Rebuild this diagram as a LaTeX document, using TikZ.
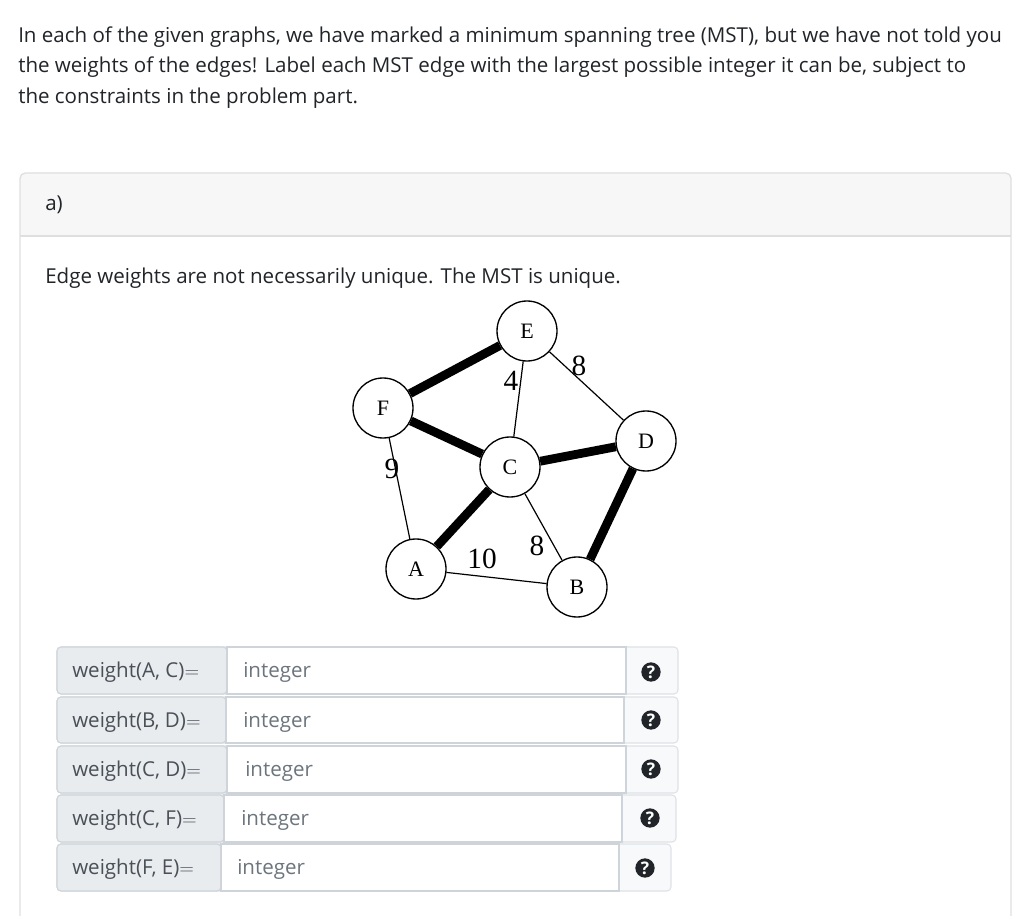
\documentclass[tikz,border=0pt]{standalone}
\usepackage{fontspec}
\setmainfont{Open Sans}
\newfontfamily\graphfont{Liberation Serif}

\definecolor{bodytext}{HTML}{212529}
\definecolor{cardline}{HTML}{DFDFDF}
\definecolor{cardhead}{HTML}{F7F7F7}
\definecolor{lblfill}{HTML}{E9ECEF}
\definecolor{lblline}{HTML}{CED4DA}
\definecolor{lbltext}{HTML}{495057}
\definecolor{addonfill}{HTML}{F8F9FA}
\definecolor{addonline}{HTML}{DEE2E6}
\definecolor{hinttext}{HTML}{6C757D}

\begin{document}
\begin{tikzpicture}[x=0.75pt, y=-0.75pt,
    every node/.style={font=\fontsize{15.4}{18}\selectfont},
    para/.style={anchor=base west, inner sep=0pt, text=bodytext},
    vertex/.style={circle, draw, fill=white, line width=1pt, minimum size=45pt,
      inner sep=0pt, font=\graphfont\fontsize{16.5}{16.5}\selectfont},
    weight/.style={inner sep=0pt, font=\graphfont\fontsize{22}{22}\selectfont},
    mst/.style={line width=6.6pt},
    light/.style={line width=0.9pt},
    addon/.style={fill=addonfill, draw=addonline, line width=0.8pt, rounded corners=3pt},
    lblbox/.style={fill=lblfill, draw=lblline, line width=0.8pt, rounded corners=3pt},
    inbox/.style={fill=white, draw=lblline, line width=0.8pt},
    lbltxt/.style={anchor=base west, inner sep=0pt, text=lbltext},
    hint/.style={anchor=base west, inner sep=0pt, text=hinttext},
    qmark/.style={circle, fill=bodytext, text=white, minimum size=14.5pt, inner sep=0pt,
      font=\bfseries\fontsize{13}{13}\selectfont}]
  \useasboundingbox (0,0) rectangle (1024,916);
  \fill[white] (0,0) rectangle (1024,916);

  % intro text
  \node[para] (intro1) at (18,43) {In each of the given graphs, we have marked a minimum spanning tree (MST), but we have not told you};
  \node[para] (intro2) at (18,73) {the weights of the edges! Label each MST edge with the largest possible integer it can be, subject to};
  \node[para] (intro3) at (18,104) {the constraints in the problem part.};

  % card
  \fill[cardhead] (20,236) [rounded corners=4pt] -- (20,173) -- (1011,173) [sharp corners] -- (1011,236) -- cycle;
  \draw[cardline, line width=1pt] (20,916) [rounded corners=4pt] -- (20,173) -- (1011,173) [sharp corners] -- (1011,916);
  \draw[cardline, line width=1pt] (20,236) -- (1011,236);
  \node[para] (part) at (45,211) {a)};
  \node[para] (note) at (45,284) {Edge weights are not necessarily unique. The MST is unique.};

  % graph
  \node[vertex] (E) at (527,331) {E};
  \node[vertex] (F) at (383,408) {F};
  \node[vertex] (C) at (510,467) {C};
  \node[vertex] (D) at (646,441) {D};
  \node[vertex] (A) at (416,569) {A};
  \node[vertex] (B) at (577,587) {B};
  \draw[mst] (F) -- (E);
  \draw[mst] (F) -- (C);
  \draw[mst] (C) -- (D);
  \draw[mst] (C) -- (A);
  \draw[mst] (D) -- (B);
  \draw[light] (E) -- (C);
  \draw[light] (E) -- (D);
  \draw[light] (F) -- (A);
  \draw[light] (A) -- (B);
  \draw[light] (C) -- (B);
  \node[weight] (wEC) at (511,381) {4};
  \node[weight] (wED) at (579,366) {8};
  \node[weight] (wFA) at (392,469) {9};
  \node[weight] (wAB) at (482,559) {10};
  \node[weight] (wCB) at (537,546) {8};

  % answer rows
  \draw[addon] (57,647) rectangle (678,694);
  \draw[lblbox] (57,647) rectangle (227,694);
  \draw[inbox] (227,647) rectangle (626,694);
  \node[lbltxt] (tAC) at (72,677) {weight(A, C){\Large$=$}};
  \node[hint] (iAC) at (243,677) {integer};
  \node[qmark] (qAC) at (651,672) {?};

  \draw[addon] (57,697) rectangle (678,743);
  \draw[lblbox] (57,697) rectangle (226,743);
  \draw[inbox] (226,697) rectangle (624,743);
  \node[lbltxt] (tBD) at (72,727) {weight(B, D){\Large$=$}};
  \node[hint] (iBD) at (243,727) {integer};
  \node[qmark] (qBD) at (651,720) {?};

  \draw[addon] (57,746) rectangle (678,793);
  \draw[lblbox] (57,746) rectangle (227,793);
  \draw[inbox] (227,746) rectangle (626,793);
  \node[lbltxt] (tCD) at (72,776) {weight(C, D){\Large$=$}};
  \node[hint] (iCD) at (245,776) {integer};
  \node[qmark] (qCD) at (651,769) {?};

  \draw[addon] (57,795) rectangle (676,842);
  \draw[lblbox] (57,795) rectangle (224,842);
  \draw[inbox] (224,795) rectangle (622,842);
  \node[lbltxt] (tCF) at (72,825) {weight(C, F){\Large$=$}};
  \node[hint] (iCF) at (241,825) {integer};
  \node[qmark] (qCF) at (650,818) {?};

  \draw[addon] (57,844) rectangle (671,891);
  \draw[lblbox] (57,844) rectangle (221,891);
  \draw[inbox] (221,844) rectangle (619,891);
  \node[lbltxt] (tFE) at (72,874) {weight(F, E){\Large$=$}};
  \node[hint] (iFE) at (237,874) {integer};
  \node[qmark] (qFE) at (645,868) {?};
\end{tikzpicture}
\end{document}
